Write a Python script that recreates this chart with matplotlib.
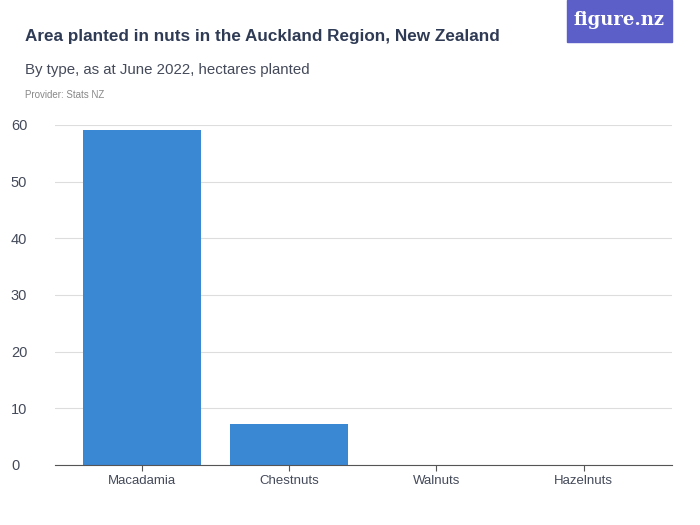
import matplotlib.pyplot as plt
from matplotlib.patches import Rectangle

categories = ['Macadamia', 'Chestnuts', 'Walnuts', 'Hazelnuts']
hectares = [59.1, 7.3, 0, 0]
y_ticks = [0, 10, 20, 30, 40, 50, 60]

plt.rcParams['font.family'] = ['Liberation Sans', 'DejaVu Sans']

fig = plt.figure(figsize=(7, 5.25), dpi=100)
ax = fig.add_axes([55 / 700, 1 - 465 / 525, 617 / 700, 340 / 525])

ax.bar(range(len(categories)), hectares, width=0.8, color='#3a87d4', zorder=2)
ax.set_xlim(-0.59, 3.6)
ax.set_ylim(0, 60)
ax.set_yticks(y_ticks)
ax.set_xticks(range(len(categories)))
ax.set_xticklabels(categories)
ax.grid(axis='y', color='#dddddd', linewidth=0.8, zorder=0)
for s in ['top', 'right', 'left']:
    ax.spines[s].set_visible(False)
ax.spines['bottom'].set_color('#555555')
ax.tick_params(axis='y', length=0, labelsize=10.5, labelcolor='#444a5a', pad=14)
ax.tick_params(axis='x', length=4, color='#555555', labelsize=9.5, labelcolor='#444a5a')
for lbl in ax.get_yticklabels():
    lbl.set_horizontalalignment('left')
    lbl.set_x(-0.04)

fig.text(25 / 700, 1 - 36 / 525, 'Area planted in nuts in the Auckland Region, New Zealand',
         fontsize=12.3, color='#2f3b55', fontweight='bold', va='center')
fig.text(25 / 700, 1 - 70 / 525, 'By type, as at June 2022, hectares planted',
         fontsize=10.8, color='#444a5a', va='center')
fig.text(25 / 700, 1 - 95 / 525, 'Provider: Stats NZ', fontsize=7, color='#888888', va='center')

fig.patches.append(Rectangle((567 / 700, 1 - 42 / 525), 105 / 700, 42 / 525,
                             transform=fig.transFigure, color='#5b5fc7', zorder=0))
fig.text(619 / 700, 1 - 20 / 525, 'figure.nz', fontsize=13, color='white',
         fontweight='bold', family='DejaVu Serif', ha='center', va='center')

fig.savefig('out.png', dpi=100)
